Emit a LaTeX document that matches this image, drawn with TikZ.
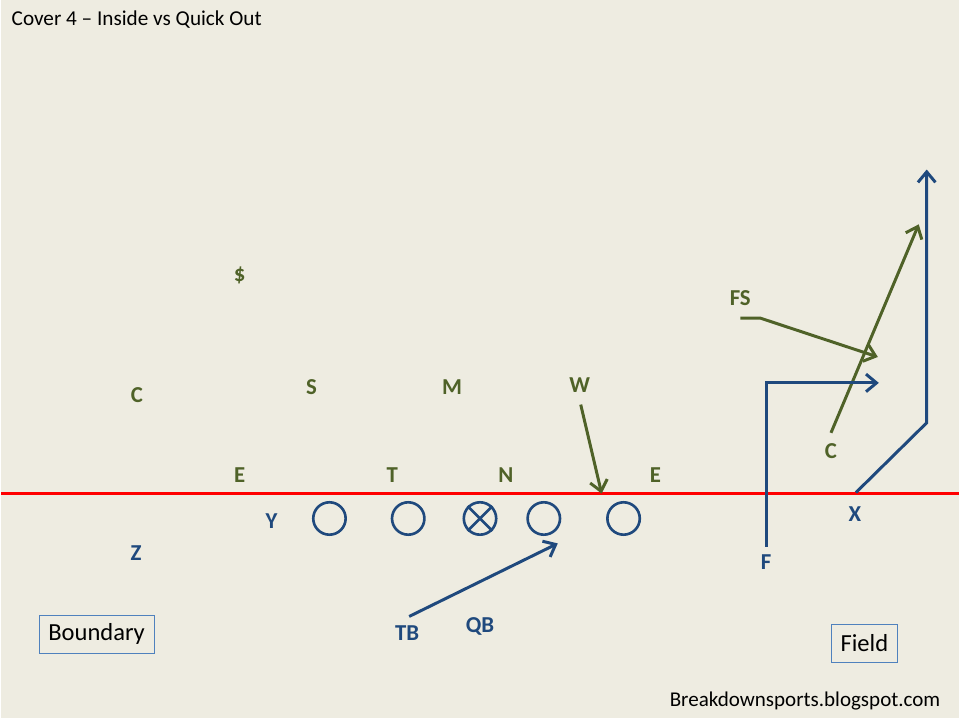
\documentclass[tikz,border=0pt]{standalone}
\usepackage{fontspec}
\setmainfont{Carlito}
\usepackage{tikz}
\usetikzlibrary{positioning}
\usetikzlibrary{calc,arrows.meta}
\definecolor{slide}{RGB}{238,236,225}
\definecolor{defgreen}{RGB}{79,98,40}
\definecolor{offblue}{RGB}{31,73,125}
\definecolor{boxline}{RGB}{79,129,189}
\tikzset{
  player/.style = {inner sep=0pt, font=\fontsize{13}{15}\selectfont\bfseries},
  def_p/.style = {player, text=defgreen},% defense
  off_p/.style = {player, text=offblue},% offense
  lineman/.style = {circle, draw=offblue, line width=1.5pt,
    minimum size=0.65cm, inner sep=0pt},
  route_o/.style = {draw=offblue, line width=1.7pt, line join=miter,
    -{Straight Barb[length=6pt,width=10pt,line width=1.7pt]}},
  route_d/.style = {draw=defgreen, line width=1.7pt,
    -{Straight Barb[length=6pt,width=10pt,line width=1.7pt]}},
  sidebox/.style = {draw=boxline, line width=0.5pt, inner xsep=5.3pt,
    inner ysep=0pt, minimum height=0.76cm,
    font=\fontsize{14}{16}\selectfont}
}
\begin{document}
\begin{tikzpicture}[x=0.02cm,y=-0.02cm]
\fill[slide] (0,0) rectangle (960,720);
\node[anchor=west, inner sep=0pt, font=\fontsize{12.1}{14}\selectfont] (title)
  at (10,20) {Cover 4 -- Inside vs Quick Out};
% line of scrimmage
\coordinate (los_l) at (0,495);
\coordinate (los_r) at (960,495);
\draw[red, line width=1.6pt] (los_l) -- (los_r);
% defense
\node[def_p] (dollar) at (239,276) {\$};
\node[def_p] (cb_b) at (136,396) {C};
\node[def_p] (sam) at (311,388) {S};
\node[def_p] (mike) at (452,388) {M};
\node[def_p] (will) at (580,386) {W};
\node[def_p] (end_b) at (239,476) {E};
\node[def_p] (tack) at (392,476) {T};
\node[def_p] (nose) at (506,476) {N};
\node[def_p] (end_f) at (656,476) {E};
\node[def_p] (fs) at (741,299) {FS};
\node[def_p] (cb_f) at (832,452) {C};
% offense
\node[off_p] (y) at (271,523) {Y};
\node[lineman] (lt) at (329,520) {};
\node[lineman] (lg) at (408,520) {};
\node[lineman] (ctr) at (480,520) {};
\draw[offblue, line width=1.5pt] (ctr.45) -- (ctr.225) (ctr.135) -- (ctr.315);
\node[lineman] (rg) at (544,520) {};
\node[lineman] (rt) at (624,520) {};
\node[off_p] (z) at (135,555) {Z};
\node[off_p] (tb) at (407,635) {TB};
\node[off_p] (qb) at (480,628) {QB};
\node[off_p] (f) at (767,564) {F};
\node[off_p] (x) at (856,516) {X};
% routes
\coordinate (w_end) at (602,495);
\draw[route_d] ($(will.south)+(1,12)$) -- (w_end);
\coordinate (fs_a) at (741,319);
\coordinate (fs_b) at (761,319);
\coordinate (fs_end) at (879,358);
\draw[route_d] (fs_a) -- (fs_b) -- (fs_end);
\coordinate (c_end) at (920,225);
\draw[route_d] ($(cb_f.north)+(0,-10)$) -- (c_end);
\coordinate (f_turn) at (767,384);
\coordinate (f_end) at (880,384);
\draw[route_o] ($(f.north)+(0,-8)$) -- (f_turn) -- (f_end);
\coordinate (x_a) at (857,494);
\coordinate (x_b) at (928,424);
\coordinate (x_end) at (928,170);
\draw[route_o] (x_a) -- (x_b) -- (x_end);
\coordinate (tb_end) at (558,545);
\draw[route_o] ($(tb.north)+(2,-9)$) -- (tb_end);
% labels
\node[sidebox] (bound) at (95.5,636) {Boundary};
\node[sidebox] (field) at (865.5,645) {Field};
\node[anchor=east, inner sep=0pt, font=\fontsize{12}{14}\selectfont] (blog)
  at (942,703) {Breakdownsports.blogspot.com};
\end{tikzpicture}
\end{document}
